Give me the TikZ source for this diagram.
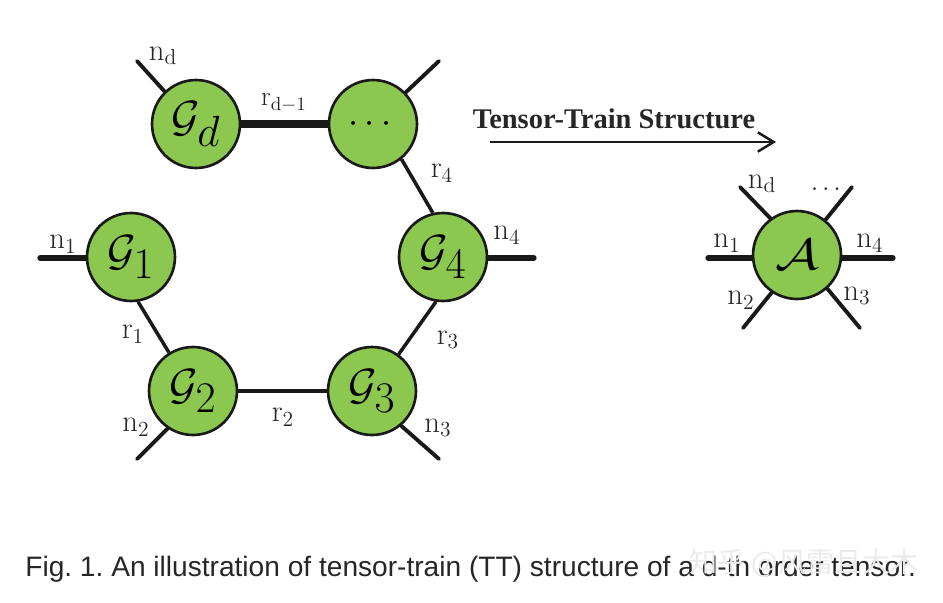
\documentclass[tikz,border=0pt]{standalone}
\usepackage{amsmath}
\usepackage{amssymb}
\usepackage{fontspec}
\usepackage{tikz}
\usetikzlibrary{arrows.meta}
\newfontfamily\capfont{Liberation Sans}
\newfontfamily\titlefont{Liberation Serif}
\newfontfamily\cjkfont{Noto Sans CJK SC}
\definecolor{coregreen}{HTML}{8CC84F}

\begin{document}
\begin{tikzpicture}[
    x=0.02cm, y=-0.02cm,
    core/.style={circle, draw=black!90, line width=1.5pt, fill=coregreen, minimum size=1.76cm, inner sep=0pt, font=\fontsize{34}{38}\selectfont},
    idx/.style={inner sep=0pt, text=black!85, font=\fontsize{17.5}{20}\selectfont},
    leg/.style={line width=2.2pt, line cap=round, black!90},
    hleg/.style={line width=3pt, line cap=round, black!90},
    thinbond/.style={line width=2pt, black!90},
    thickbond/.style={line width=4pt, black!90}
]
\useasboundingbox (0,0) rectangle (943,602);

% tensor train ring
\coordinate (endd) at (137,61);
\coordinate (enddots) at (439,61);
\coordinate (end1) at (40,258);
\coordinate (end4) at (534,258);
\coordinate (end2) at (137,459);
\coordinate (end3) at (439,459);
\node[core] (Gd) at (196,124) {$\mathcal{G}_d$};
\node[core] (Gdots) at (373,124) {\raisebox{-3pt}{\fontsize{22}{24}\selectfont$\cdots$}};
\node[core] (G1) at (131,257) {$\mathcal{G}_1$};
\node[core] (G4) at (443,257) {$\mathcal{G}_4$};
\node[core] (G2) at (193,391) {$\mathcal{G}_2$};
\node[core] (G3) at (372,391) {$\mathcal{G}_3$};

\draw[thickbond] (Gd) -- (Gdots);
\draw[thinbond] (Gdots.-51) -- (G4.103);
\draw[thinbond] (G4.261) -- (G3.54);
\draw[thinbond] (G3) -- (G2);
\draw[thinbond] (G2.122) -- (G1.-81);
\draw[leg] (Gd.134) -- (endd);
\draw[leg] (Gdots.44) -- (enddots);
\draw[hleg] (G1.west |- end1) -- (end1);
\draw[hleg] (G4.east |- end4) -- (end4);
\draw[leg] (G2.236) -- (end2);
\draw[leg] (G3.-50) -- (end3);

\node[idx] (nd) at (163,56) {$\mathrm{n_d}$};
\node[idx] (n1) at (63,244) {$\mathrm{n_1}$};
\node[idx] (n4) at (507,235) {$\mathrm{n_4}$};
\node[idx] (n2) at (136,427) {$\mathrm{n_2}$};
\node[idx] (n3) at (438,428) {$\mathrm{n_3}$};
\node[idx, font=\fontsize{15.5}{18}\selectfont] (rdm) at (284,103) {$\mathrm{r_{d-1}}$};
\node[idx] (r4) at (442,173) {$\mathrm{r_4}$};
\node[idx] (r3) at (448,340) {$\mathrm{r_3}$};
\node[idx] (r2) at (283,417) {$\mathrm{r_2}$};
\node[idx] (r1) at (133,334) {$\mathrm{r_1}$};

% arrow to the full tensor
\coordinate (arrowstart) at (490,142);
\coordinate (arrowend) at (776,142);
\node[inner sep=0pt, text=black!85, font=\fontsize{16.2}{19}\selectfont\titlefont\bfseries] (title) at (614,119) {Tensor-Train Structure};
\draw[line width=1.4pt, black!90, -{Straight Barb[length=9pt,width=11pt,line width=1.4pt]}] (arrowstart) -- (arrowend);

% full tensor
\coordinate (endAd) at (740,187);
\coordinate (endAdots) at (852,187);
\coordinate (endA1) at (708,258);
\coordinate (endA4) at (893,258);
\coordinate (endA2) at (743,328);
\coordinate (endA3) at (860,328);
\node[core, font=\fontsize{40}{44}\selectfont] (A) at (797,255) {\scalebox{1.25}[1]{$\mathcal{A}$}};
\draw[leg] (A.126) -- (endAd);
\draw[leg] (A.51) -- (endAdots);
\draw[hleg] (A.west |- endA1) -- (endA1);
\draw[hleg] (A.east |- endA4) -- (endA4);
\draw[leg] (A.236) -- (endA2);
\draw[leg] (A.-48) -- (endA3);

\node[idx] (And) at (762,184) {$\mathrm{n_d}$};
\node[idx, font=\fontsize{15}{18}\selectfont] (Adots) at (828,190) {$\cdots$};
\node[idx] (An1) at (727,243) {$\mathrm{n_1}$};
\node[idx] (An4) at (870,243) {$\mathrm{n_4}$};
\node[idx] (An2) at (741,300) {$\mathrm{n_2}$};
\node[idx] (An3) at (857,296) {$\mathrm{n_3}$};

% caption and the mark printed over it
\node[inner sep=0pt, anchor=west, text=black!85, font=\fontsize{16}{19}\selectfont\capfont\frenchspacing] (caption) at (25,569) {Fig. 1. An illustration of tensor-train (TT) structure of a d-th order tensor.};
\node[inner sep=0pt, anchor=west, text=black!8, font=\fontsize{16}{19}\selectfont\cjkfont] (mark) at (689,563) {知乎 @风雷且大木};
\end{tikzpicture}
\end{document}
